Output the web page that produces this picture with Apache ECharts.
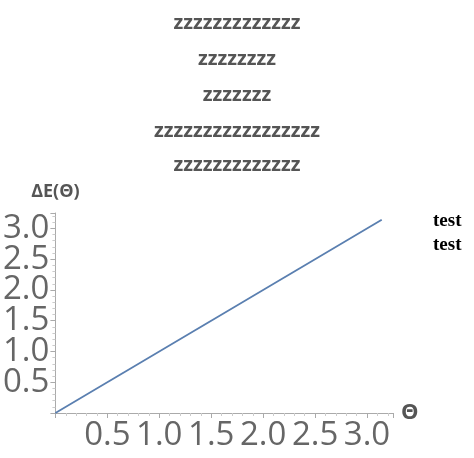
<!DOCTYPE html>
<html>
<head>
<meta charset="utf-8">
<script src="https://cdn.jsdelivr.net/npm/echarts@6/dist/echarts.min.js"></script>
<style>html,body{margin:0;padding:0;background:#fff}#container{width:474px;height:458px}</style>
</head>
<body>
<div id="container"></div>
<script>
var titleLines = ["zzzzzzzzzzzzz", "zzzzzzzz", "zzzzzzz", "zzzzzzzzzzzzzzzzz", "zzzzzzzzzzzzz"];
var lineData = [[0, 0], [3.14159, 3.14159]];
var legendLines = ["test", "test"];

var myChart = echarts.init(document.getElementById("container"));
var titleTops = [8, 44, 80, 116, 150];
var titles = titleLines.map(function (t, i) {
    return {
        text: t, left: "center", top: titleTops[i],
        textStyle: {fontFamily: "Open Sans", fontSize: 20, fontWeight: "bold", color: "#555"}
    };
});
titles.push({
    text: legendLines.join("\n"), left: 428, top: 204,
    textStyle: {fontFamily: "Liberation Serif", fontSize: 19, fontWeight: "bold", color: "#000", lineHeight: 24}
});

function fmt(val) {
    if (val === 0) return "";
    if (Math.abs(val * 2 - Math.round(val * 2)) > 1e-6) return "";
    return val.toFixed(1);
}

myChart.setOption({
    animation: false,
    title: titles,
    grid: {left: 55, right: 81, top: 213, bottom: 45, containLabel: false},
    xAxis: {
        type: "value", min: 0, max: 3.25, interval: 0.5,
        name: "Θ", nameLocation: "end", nameGap: 8,
        nameTextStyle: {fontFamily: "Open Sans", fontSize: 22, color: "#555", fontWeight: "bold"},
        axisLine: {lineStyle: {color: "#aaa"}},
        axisTick: {show: true, length: 5, lineStyle: {color: "#aaa"}},
        minorTick: {show: true, splitNumber: 5, length: 3, lineStyle: {color: "#ccc"}},
        axisLabel: {formatter: fmt, fontFamily: "Open Sans", fontSize: 33, color: "#666", margin: 6, showMaxLabel: false},
        splitLine: {show: false}
    },
    yAxis: {
        type: "value", min: 0, max: 3.25, interval: 0.5,
        name: "ΔE(Θ)", nameLocation: "end", nameGap: 12,
        nameTextStyle: {fontFamily: "Open Sans", fontSize: 18, color: "#555", fontWeight: "bold", align: "center"},
        axisLine: {show: true, lineStyle: {color: "#aaa"}},
        axisTick: {show: true, length: 5, lineStyle: {color: "#aaa"}},
        minorTick: {show: true, splitNumber: 5, length: 3, lineStyle: {color: "#ccc"}},
        axisLabel: {formatter: fmt, fontFamily: "Open Sans", fontSize: 33, color: "#666", margin: 6, showMaxLabel: false},
        splitLine: {show: false}
    },
    series: [{
        type: "line", data: lineData, showSymbol: false,
        lineStyle: {color: "#5a7fb0", width: 1.8}
    }]
});
</script>
</body>
</html>
